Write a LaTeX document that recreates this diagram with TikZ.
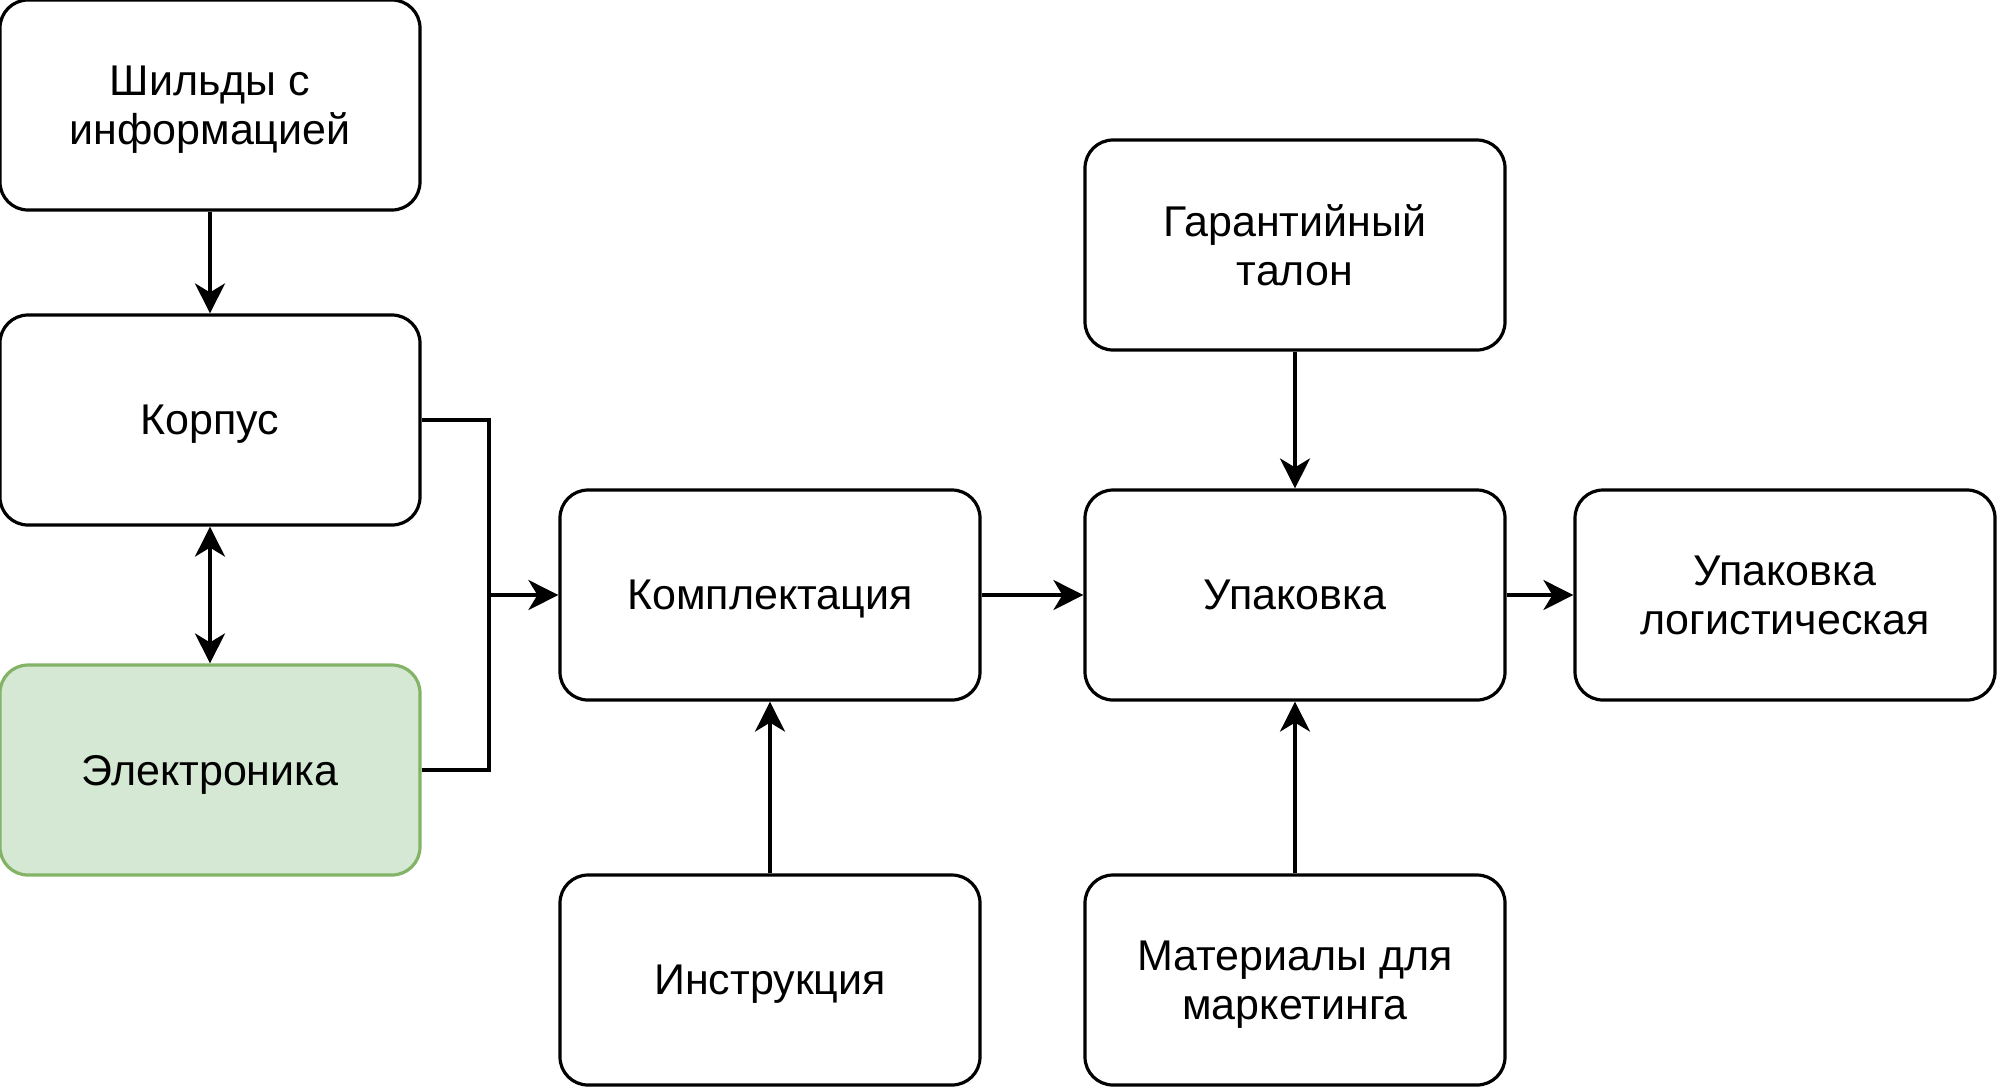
\documentclass[tikz,border=0pt]{standalone}
\usepackage{fontspec}
\setmainfont{Liberation Sans}
\usetikzlibrary{arrows.meta}
\definecolor{elecfill}{HTML}{D5E8D4}
\definecolor{elecline}{HTML}{82B366}
\begin{document}
\begin{tikzpicture}[x=0.5pt,y=-0.5pt,line width=1.6pt,
    box/.style={draw,rounded corners=14pt,minimum width=210pt,minimum height=105pt,text depth=0pt,align=center,font=\fontsize{21.5}{24.5}\selectfont},
    >={Stealth[length=15pt,width=15pt,inset=4.5pt]}]
        \useasboundingbox (0,0) rectangle (1998,1089);
        \node[box] at (210, 105) (shild) {Шильды с\\информацией};
        \node[box] at (210, 420) (korpus) {Корпус};
        \node[box,fill=elecfill,draw=elecline] at (210, 770) (elec) {Электроника};
        \node[box] at (770, 595) (kompl) {Комплектация};
        \node[box] at (770, 980) (instr) {Инструкция};
        \node[box] at (1295, 245) (garant) {Гарантийный\\талон};
        \node[box] at (1295, 595) (upak) {Упаковка};
        \node[box] at (1295, 980) (mater) {Материалы для\\маркетинга};
        \node[box] at (1785, 595) (logist) {Упаковка\\логистическая};
        \coordinate (join) at (489, 595);
        \draw[->] (shild) -- (korpus);
        \draw[<->] (korpus) -- (elec);
        \draw (korpus.east) -| (join);
        \draw (elec.east) -| (join);
        \draw[->] (join) -- (kompl.west);
        \draw[->] (instr) -- (kompl);
        \draw[->] (kompl) -- (upak);
        \draw[->] (garant) -- (upak);
        \draw[->] (mater) -- (upak);
        \draw[->] (upak) -- (logist);
    \end{tikzpicture}
\end{document}
